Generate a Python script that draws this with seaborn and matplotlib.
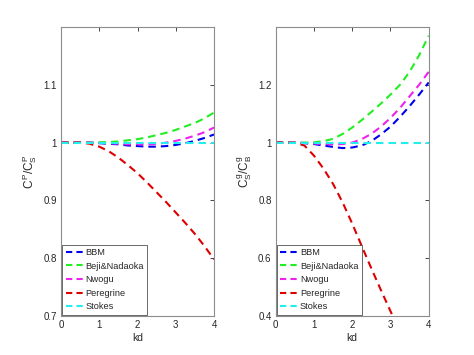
# =========================================
# PHASE / GROUP SPEED RATIO vs kd
# =========================================

import numpy as np
import pandas as pd
import matplotlib
matplotlib.use("Agg")
import matplotlib.pyplot as plt
import seaborn as sns


# =========================================
# DATA
# =========================================

kd = [0, 0.25, 0.5, 0.75, 1, 1.25, 1.5, 1.75, 2,
      2.25, 2.5, 2.75, 3, 3.25, 3.5, 3.75, 4]

models = ["BBM", "Beji&Nadaoka", "Nwogu", "Peregrine", "Stokes"]

# phase speed ratio C^P / C^P_S
phase_bbm = [1, 1, 1, 1, 0.999, 0.998, 0.997, 0.995, 0.994,
             0.993, 0.993, 0.994, 0.996, 0.999, 1.003, 1.008, 1.014]
phase_beji = [1, 1, 1, 1, 1.0005, 1.001, 1.002, 1.004, 1.006,
              1.009, 1.013, 1.017, 1.022, 1.028, 1.034, 1.042, 1.052]
phase_nwogu = [1, 1, 1, 1, 0.9995, 0.999, 0.998, 0.997, 0.997,
               0.997, 0.998, 1.0, 1.003, 1.007, 1.012, 1.018, 1.026]
phase_peregrine = [1, 1, 1, 0.998, 0.993, 0.985, 0.974, 0.961, 0.947,
                   0.931, 0.914, 0.897, 0.879, 0.861, 0.842, 0.821, 0.798]
phase_stokes = [1] * 17

# group speed ratio C^g_S / C^g_B
group_bbm = [1, 1, 1, 0.998, 0.995, 0.99, 0.985, 0.981, 0.983,
             0.99, 1.005, 1.028, 1.055, 1.089, 1.126, 1.166, 1.208]
group_beji = [1, 1, 1, 1, 1.001, 1.005, 1.013, 1.03, 1.052,
              1.078, 1.106, 1.135, 1.166, 1.2, 1.245, 1.302, 1.37]
group_nwogu = [1, 1, 1, 0.999, 0.997, 0.995, 0.994, 0.995, 1.0,
               1.012, 1.03, 1.055, 1.085, 1.12, 1.16, 1.2, 1.245]
group_peregrine = [1, 1, 0.999, 0.99, 0.955, 0.91, 0.857, 0.793, 0.72,
                   0.642, 0.565, 0.49, 0.417, 0.345, 0.28, 0.22, 0.16]
group_stokes = [1] * 17

colors = ["#0000ee", "#22ee22", "#ee22ee", "#dd0000", "#22eeee"]


# =========================================
# BUILD TABLES
# =========================================

def build(series):
    rows = []
    for name, vals in zip(models, series):
        for x, y in zip(kd, vals):
            rows.append({"kd": x, "ratio": y, "model": name})
    return pd.DataFrame(rows)


phase_df = build([phase_bbm, phase_beji, phase_nwogu, phase_peregrine, phase_stokes])
group_df = build([group_bbm, group_beji, group_nwogu, group_peregrine, group_stokes])


# =========================================
# PLOT
# =========================================

sns.set_style("white")
plt.rcParams["font.family"] = ["Liberation Sans", "DejaVu Sans"]
plt.rcParams["mathtext.fontset"] = "custom"
plt.rcParams["mathtext.rm"] = "Liberation Sans"
plt.rcParams["mathtext.it"] = "Liberation Sans"

fig = plt.figure(figsize=(4.74, 3.55), dpi=100)
ax1 = fig.add_axes([0.1287, 0.1099, 0.3228, 0.814])
ax2 = fig.add_axes([0.5816, 0.1099, 0.3228, 0.814])

panels = [
    (ax1, phase_df, (0.7, 1.2), [0.7, 0.8, 0.9, 1.0, 1.1],
     ["0.7", "0.8", "0.9", "1", "1.1"], r"$C^P/C^P_S$"),
    (ax2, group_df, (0.4, 1.4), [0.4, 0.6, 0.8, 1.0, 1.2],
     ["0.4", "0.6", "0.8", "1", "1.2"], r"$C^g_S/C^g_B$"),
]

for ax, df, ylim, yt, ytl, ylab in panels:
    for name, col in zip(models, colors):
        sub = df[df["model"] == name]
        sns.lineplot(data=sub, x="kd", y="ratio", ax=ax, color=col,
                     label=name, linewidth=1.5, dashes=False)
        ax.lines[-1].set_dashes((3.6, 2.4))

    ax.set_xlim(0, 4)
    ax.set_ylim(*ylim)
    ax.set_xticks([0, 1, 2, 3, 4])
    ax.set_yticks(yt)
    ax.set_yticklabels(ytl)
    ax.set_xlabel("kd", fontsize=7.5, color="#262626", labelpad=2)
    ax.set_ylabel(ylab, fontsize=8.5, color="#262626", labelpad=3)
    ax.tick_params(direction="in", length=3, width=0.6, labelsize=7,
                   colors="#262626", top=True, right=True, pad=3)
    for sp in ax.spines.values():
        sp.set_color("#8c8c8c")
        sp.set_linewidth(0.8)

    leg = ax.legend(loc="lower left", fontsize=6.6, frameon=True,
                    fancybox=False, handlelength=1.9, handletextpad=0.25,
                    borderpad=0.35, labelspacing=0.5,
                    borderaxespad=0.15)
    leg.get_frame().set_edgecolor("#262626")
    leg.get_frame().set_linewidth(0.6)
    for h in leg.get_lines():
        h.set_dashes((3.0, 2.0))

plt.savefig("out.png", dpi=100)
